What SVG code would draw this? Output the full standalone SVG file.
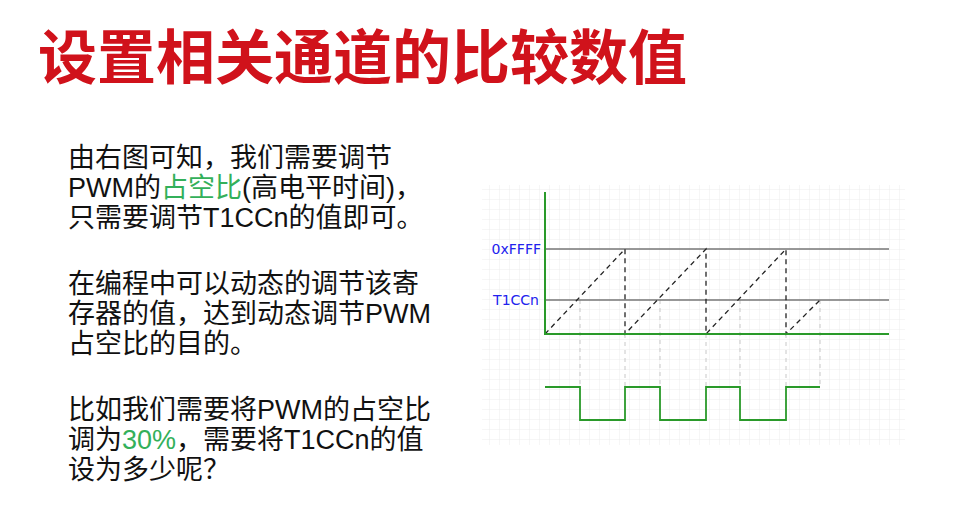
<svg xmlns="http://www.w3.org/2000/svg" width="965" height="531" viewBox="0 0 965 531">
<style>
.t{font-family:"Liberation Sans","Noto Sans CJK SC",sans-serif;font-size:27px;fill:#111}
.lbl{font-family:"DejaVu Sans",sans-serif;font-size:14px;fill:#2222ee;text-anchor:end}
.gd{stroke:#c8c8c8;stroke-width:1;stroke-dasharray:4 4}
.bd{stroke:#222;stroke-width:1.3;stroke-dasharray:5 4;fill:none}
</style>
<defs>
<pattern id="grid" width="10" height="10" patternUnits="userSpaceOnUse"><path d="M10 0V10H0" fill="none" stroke="#ececec" stroke-width="1"/></pattern>
</defs>
<rect width="965" height="531" fill="#fff"/>
<text x="38" y="79" font-family="Liberation Sans,Noto Sans CJK SC,sans-serif" font-size="59" font-weight="bold" fill="#d0121b">设置相关通道的比较数值</text>
<g id="text">
<text class="t" x="68" y="167">由右图可知，我们需要调节</text>
<text class="t" x="68" y="197">PWM的<tspan fill="#33b05a">占空比</tspan>(高电平时间)，</text>
<text class="t" x="68" y="227">只需要调节T1CCn的值即可。</text>
<text class="t" x="68" y="293">在编程中可以动态的调节该寄</text>
<text class="t" x="68" y="323">存器的值，达到动态调节PWM</text>
<text class="t" x="68" y="353">占空比的目的。</text>
<text class="t" x="68" y="419">比如我们需要将PWM的占空比</text>
<text class="t" x="68" y="449">调为<tspan fill="#33b05a">30%</tspan>，需要将T1CCn的值</text>
<text class="t" x="68" y="479">设为多少呢？</text>
</g>
<g id="chart">
<rect x="482" y="185" width="423" height="260" fill="url(#grid)"/>
<g id="guides">
<path class="gd" d="M580 300V387M625 334V387M660 300V387M706 334V387M740 300V387M786 334V387M820 300V387"/>
</g>
<path d="M545 249H889M545 300H889" stroke="#777" stroke-width="1.3"/>
<path class="bd" d="M545 334L625 249V334L706 249V334L786 249V334L820 300"/>
<path d="M545 192V334H889" stroke="#2a9a2a" stroke-width="2" fill="none"/>
<path d="M545 387H580V420H625V387H660V420H706V387H740V420H786V387H820" stroke="#2a9a2a" stroke-width="1.8" fill="none"/>
<text class="lbl" x="541" y="254">0xFFFF</text>
<text class="lbl" x="539" y="305">T1CCn</text>
</g>
</svg>
